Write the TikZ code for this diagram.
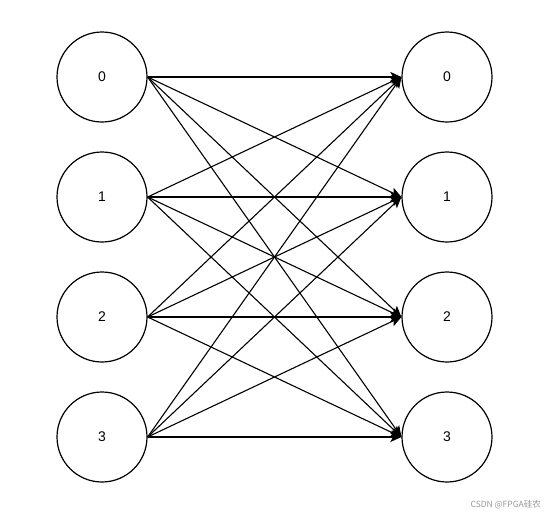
\documentclass[tikz,border=0pt]{standalone}
\usepackage{fontspec}
\setmainfont{Liberation Sans}
\newfontfamily\cjk{Noto Sans CJK SC}
\usetikzlibrary{arrows.meta}
\begin{document}
\begin{tikzpicture}[x=1pt,y=-1pt,
  neuron/.style={draw,circle,line width=1.2pt,minimum size=90pt,inner sep=0pt,font=\fontsize{14}{16}\selectfont},
  conn/.style={line width=1.1pt,-{Stealth[length=11pt,width=10pt,inset=2.5pt]}}]
\useasboundingbox (0,0) rectangle (545,517);
\foreach \i/\y in {0/77,1/197,2/317,3/437}{
  \node[neuron] (l\i) at (102,\y) {\i};
  \node[neuron] (r\i) at (447,\y) {\i};
}
\foreach \i in {0,...,3}{
  \foreach \j in {0,...,3}{
    \draw[conn] (l\i.east) -- (r\j.west);
  }
}
\node[anchor=east,text=black!40,font=\cjk\fontsize{8.5}{10}\selectfont,inner sep=0pt] (wm) at (541,505) {CSDN @FPGA硅农};
\end{tikzpicture}
\end{document}
